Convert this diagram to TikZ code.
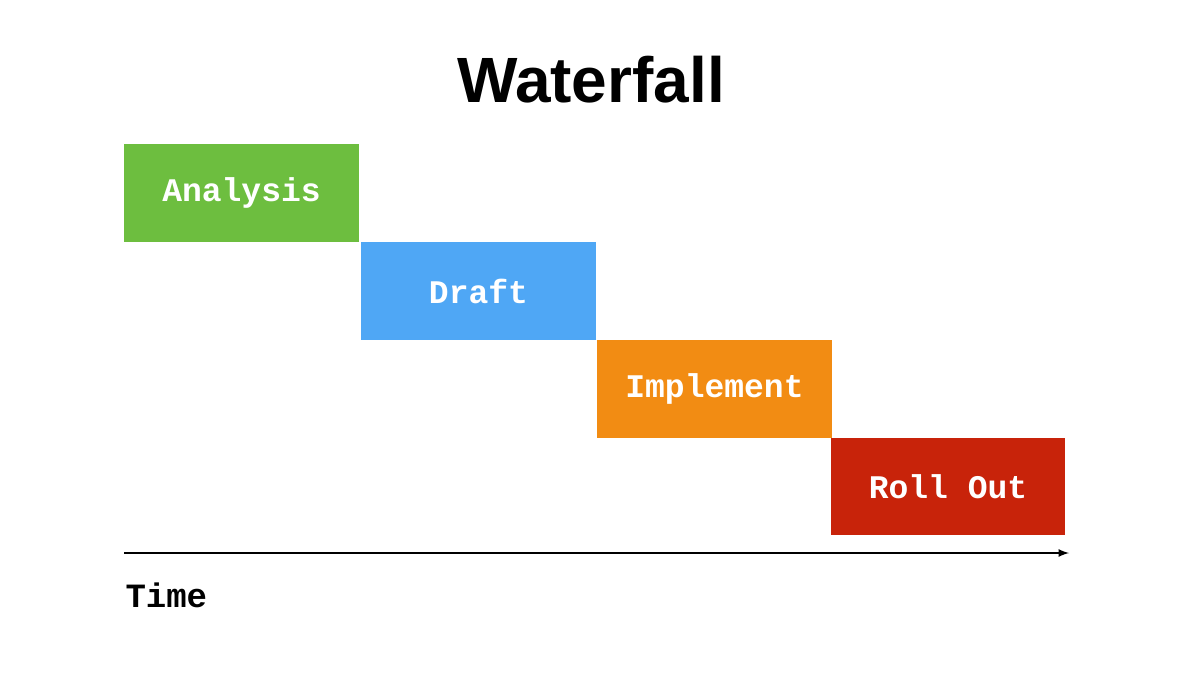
\documentclass[tikz,border=0pt]{standalone}
\usepackage{fontspec}
\setmainfont{Liberation Sans}
\setmonofont{Liberation Mono}
\begin{document}
\begin{tikzpicture}[x=1pt,y=-1pt,
  phase/.style={draw=none,inner sep=0pt,font=\fontsize{33}{33}\ttfamily\bfseries,text=white}]
\useasboundingbox (0,0) rectangle (1200,683);
\definecolor{cg}{HTML}{6DBE3F}\definecolor{cb}{HTML}{4FA7F5}
\definecolor{co}{HTML}{F28C13}\definecolor{cr}{HTML}{C8230A}
\node[font=\fontsize{64}{64}\selectfont\bfseries] (title) at (591,80) {Waterfall};
\fill[cg] (124,144) rectangle (359,242);
\node[phase] (a) at (241.5,193) {Analysis};
\fill[cb] (361,242) rectangle (596,340);
\node[phase] (d) at (478.5,291) {Draft};
\fill[co] (597,340) rectangle (832,438);
\node[phase] (i) at (714.5,389) {Implement};
\fill[cr] (831,438) rectangle (1065,535);
\node[phase] (r) at (948,487) {Roll Out};
\coordinate (s) at (124,553); \coordinate (e) at (1069,553);
\draw[line width=2.5pt,-latex] (s) -- (e);
\node[anchor=west,font=\fontsize{34}{34}\ttfamily\bfseries] (t) at (122,595) {Time};
\end{tikzpicture}
\end{document}
